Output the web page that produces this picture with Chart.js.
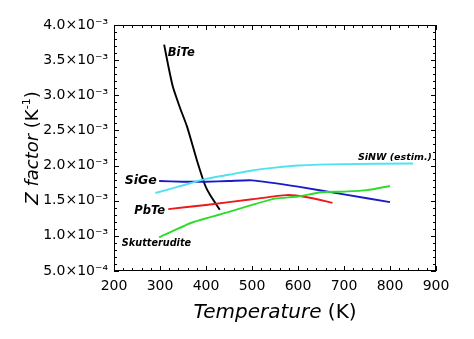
<!DOCTYPE html>
<html lang="en">
  <head>
    <meta charset="UTF-8" />
    <title>Z factor vs temperature</title>
    <script src="https://cdn.jsdelivr.net/npm/chart.js@4.4.1/dist/chart.umd.min.js"></script>
    <style>
      html, body { margin: 0; padding: 0; background: #fff; }
      #wrap { width: 474px; height: 339px; }
    </style>
  </head>
  <body>
    <div id="wrap"><canvas id="myChart" width="474" height="339"></canvas></div>
    <script>
      // Temperatures (K) and Z factors (1/K)
      const biteT = [309, 318, 328, 343, 359, 380, 398, 409, 430];
      const biteZ = [3.72e-3, 3.42e-3, 3.12e-3, 2.83e-3, 2.55e-3, 2.08e-3, 1.72e-3, 1.58e-3, 1.37e-3];

      const sigeT = [298, 350, 400, 450, 500, 600, 700, 800];
      const sigeZ = [1.78e-3, 1.77e-3, 1.77e-3, 1.78e-3, 1.79e-3, 1.70e-3, 1.59e-3, 1.48e-3];

      const sinwT = [290, 340, 400, 450, 500, 550, 600, 700, 850];
      const sinwZ = [1.61e-3, 1.70e-3, 1.81e-3, 1.87e-3, 1.93e-3, 1.97e-3, 2.00e-3, 2.02e-3, 2.03e-3];

      const pbteT = [318, 400, 500, 575, 620, 675];
      const pbteZ = [1.38e-3, 1.44e-3, 1.52e-3, 1.58e-3, 1.55e-3, 1.47e-3];

      const skutT = [298, 370, 450, 500, 550, 600, 650, 700, 750, 800];
      const skutZ = [0.98e-3, 1.19e-3, 1.34e-3, 1.44e-3, 1.53e-3, 1.56e-3, 1.62e-3, 1.63e-3, 1.65e-3, 1.71e-3];

      const xTicks = [200, 300, 400, 500, 600, 700, 800, 900];
      const yTicks = [5.0e-4, 1.0e-3, 1.5e-3, 2.0e-3, 2.5e-3, 3.0e-3, 3.5e-3, 4.0e-3];

      const pts = (t, z) => t.map((v, i) => ({ x: v, y: z[i] }));
      const sup = { "-": "\u207B", "0": "\u2070", "1": "\u00B9", "2": "\u00B2", "3": "\u00B3", "4": "\u2074", "5": "\u2075", "6": "\u2076", "7": "\u2077", "8": "\u2078", "9": "\u2079" };
      function sciLabel(v) {
        const e = Math.floor(Math.log10(v) + 1e-9);
        const m = v / Math.pow(10, e);
        const es = String(e).split("").map((c) => sup[c]).join("");
        return m.toFixed(1) + "\u00D710" + es;
      }

      // curve labels, placed in data coordinates
      const curveLabels = [
        { text: "BiTe", x: 317, y: 3.60e-3, align: "left", size: 11.5 },
        { text: "SiGe", x: 293, y: 1.78e-3, align: "right", size: 12.5 },
        { text: "PbTe", x: 311, y: 1.355e-3, align: "right", size: 11.5 },
        { text: "Skutterudite", x: 217, y: 0.885e-3, align: "left", size: 9.7 },
        { text: "SiNW (estim.)", x: 891, y: 2.11e-3, align: "right", size: 9.5 },
      ];

      const decorations = {
        id: "decorations",
        afterDraw(chart) {
          const { ctx, chartArea: a, scales } = chart;
          const xs = scales.x, ys = scales.y;
          ctx.save();
          ctx.strokeStyle = "#000";
          ctx.lineWidth = 1;
          ctx.strokeRect(a.left + 0.5, a.top + 0.5, a.right - a.left - 1, a.bottom - a.top - 1);
          ctx.beginPath();
          for (let v = 200; v <= 900; v += 20) {
            const px = Math.round(xs.getPixelForValue(v)) + 0.5;
            const len = v % 100 === 0 ? 5 : 3;
            ctx.moveTo(px, a.bottom); ctx.lineTo(px, a.bottom - len);
            ctx.moveTo(px, a.top); ctx.lineTo(px, a.top + len);
          }
          for (let k = 5; k <= 40; k++) {
            const py = Math.round(ys.getPixelForValue(k * 1e-4)) + 0.5;
            const len = k % 5 === 0 ? 5 : 3;
            ctx.moveTo(a.left, py); ctx.lineTo(a.left + len, py);
            ctx.moveTo(a.right, py); ctx.lineTo(a.right - len, py);
          }
          ctx.stroke();

          // curve labels
          ctx.fillStyle = "#000";
          ctx.textBaseline = "middle";
          curveLabels.forEach((l) => {
            ctx.font = "italic bold " + l.size + "px 'DejaVu Sans'";
            ctx.textAlign = l.align;
            ctx.fillText(l.text, xs.getPixelForValue(l.x), ys.getPixelForValue(l.y));
          });

          // x title
          ctx.textAlign = "left";
          ctx.textBaseline = "alphabetic";
          const italicX = "italic 20px 'DejaVu Sans'";
          const normalX = "20px 'DejaVu Sans'";
          ctx.font = italicX;
          const w1 = ctx.measureText("Temperature").width;
          ctx.font = normalX;
          const w2 = ctx.measureText(" (K)").width;
          const cx = (a.left + a.right) / 2;
          let sx = cx - (w1 + w2) / 2;
          ctx.font = italicX;
          ctx.fillText("Temperature", sx, 318);
          ctx.font = normalX;
          ctx.fillText(" (K)", sx + w1, 318);

          // y title, rotated
          ctx.translate(38, (a.top + a.bottom) / 2);
          ctx.rotate(-Math.PI / 2);
          const italicY = "italic 18px 'DejaVu Sans'";
          const normalY = "18px 'DejaVu Sans'";
          const supY = "11px 'DejaVu Sans'";
          ctx.font = italicY;
          const p1 = ctx.measureText("Z factor").width;
          ctx.font = normalY;
          const p2 = ctx.measureText(" (K").width;
          const p4 = ctx.measureText(")").width;
          ctx.font = supY;
          const p3 = ctx.measureText("-1").width;
          let ty = -(p1 + p2 + p3 + p4) / 2;
          ctx.font = italicY;
          ctx.fillText("Z factor", ty, 0);
          ty += p1;
          ctx.font = normalY;
          ctx.fillText(" (K", ty, 0);
          ty += p2;
          ctx.font = supY;
          ctx.fillText("-1", ty, -8);
          ty += p3;
          ctx.font = normalY;
          ctx.fillText(")", ty, 0);
          ctx.restore();
        },
      };

      const line = (data, color) => ({
        data: data,
        borderColor: color,
        borderWidth: 1.9,
        pointRadius: 0,
        showLine: true,
        tension: 0.2,
        fill: false,
      });

      const ctx = document.getElementById("myChart").getContext("2d");
      const myChart = new Chart(ctx, {
        type: "scatter",
        data: {
          datasets: [
            line(pts(sinwT, sinwZ), "#4fe2f0"),
            line(pts(skutT, skutZ), "#2ddc2d"),
            line(pts(pbteT, pbteZ), "#ea1a1a"),
            line(pts(sigeT, sigeZ), "#1a1ac8"),
            line(pts(biteT, biteZ), "#000000"),
          ],
        },
        options: {
          responsive: false,
          animation: false,
          layout: { padding: { left: 0, top: 25, right: 38, bottom: 0 } },
          plugins: { legend: { display: false }, tooltip: { enabled: false } },
          scales: {
            x: {
              type: "linear",
              min: 200,
              max: 900,
              afterFit: (s) => { s.height = 68; },
              afterBuildTicks: (s) => { s.ticks = xTicks.map((v) => ({ value: v })); },
              grid: { display: false, drawTicks: false },
              border: { display: false },
              ticks: {
                color: "#000",
                padding: 7,
                maxRotation: 0,
                autoSkip: false,
                font: { family: "'DejaVu Sans'", size: 14 },
              },
            },
            y: {
              type: "linear",
              min: 5.0e-4,
              max: 4.0e-3,
              afterFit: (s) => { s.width = 114; },
              afterBuildTicks: (s) => { s.ticks = yTicks.map((v) => ({ value: v })); },
              grid: { display: false, drawTicks: false },
              border: { display: false },
              ticks: {
                color: "#000",
                padding: 6,
                autoSkip: false,
                font: { family: "'DejaVu Sans'", size: 14 },
                callback: (v) => sciLabel(v),
              },
            },
          },
        },
        plugins: [decorations],
      });
    </script>
  </body>
</html>
